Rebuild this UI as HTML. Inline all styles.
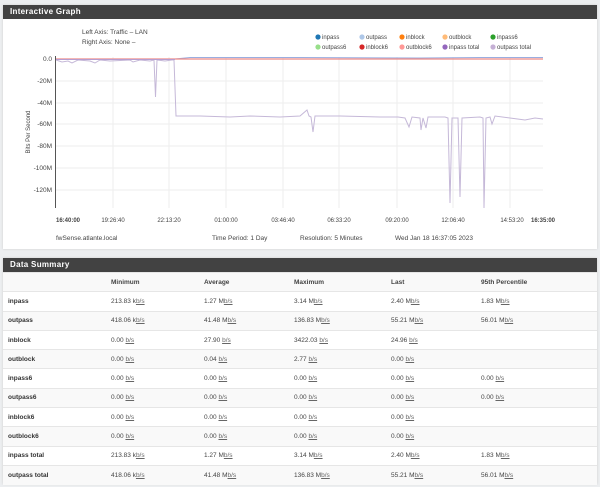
<!DOCTYPE html>
<html><head><meta charset="utf-8"><style>
body{margin:0;width:600px;height:487px;background:#eceef0;font-family:"Liberation Sans",sans-serif;position:relative;overflow:hidden}
.p{position:absolute;left:3px;width:594px;background:#fff;box-shadow:0 0 2px #ccc}
.h{background:#424242;color:#fff;font-size:8px;font-weight:bold;height:14px;line-height:14px;padding-left:7px;letter-spacing:.3px}
table{border-collapse:collapse;width:594px;font-size:6.5px;color:#444}
td{height:19.3px;border-top:1px solid #e6e6e6;padding:0;box-sizing:border-box}
tr:nth-child(odd) td{background:#f9f9f9}
td:first-child{font-weight:bold;padding-left:5px;color:#333;width:108px}
td:nth-child(2){width:93px}td:nth-child(3){width:90px}td:nth-child(4){width:97px}td:nth-child(5){width:90px}
u{text-decoration:underline;color:#666}
</style></head><body>
<div class="p" style="top:5px;height:244px"><div class="h">Interactive Graph</div></div>
<svg style="position:absolute;left:0;top:0" width="600" height="250" font-family="Liberation Sans" font-size="6.5" fill="#444">
<text x="82" y="34">Left Axis: Traffic – LAN</text><text x="82" y="44">Right Axis: None –</text>
<g font-size="6"><circle cx="318" cy="37" r="2.6" fill="#1f77b4"/><text x="322" y="39">inpass</text>
<circle cx="362" cy="37" r="2.6" fill="#aec7e8"/><text x="366" y="39">outpass</text>
<circle cx="402" cy="37" r="2.6" fill="#ff7f0e"/><text x="406" y="39">inblock</text>
<circle cx="445" cy="37" r="2.6" fill="#ffbb78"/><text x="449" y="39">outblock</text>
<circle cx="493" cy="37" r="2.6" fill="#2ca02c"/><text x="497" y="39">inpass6</text>
<circle cx="318" cy="47" r="2.6" fill="#98df8a"/><text x="322" y="49">outpass6</text>
<circle cx="362" cy="47" r="2.6" fill="#d62728"/><text x="366" y="49">inblock6</text>
<circle cx="402" cy="47" r="2.6" fill="#ff9896"/><text x="406" y="49">outblock6</text>
<circle cx="445" cy="47" r="2.6" fill="#9467bd"/><text x="449" y="49">inpass total</text>
<circle cx="493" cy="47" r="2.6" fill="#c5b0d5"/><text x="497" y="49">outpass total</text></g>
<g stroke="#eee" stroke-width="1">
<line x1="113" y1="57" x2="113" y2="208"/><line x1="169" y1="57" x2="169" y2="208"/><line x1="226" y1="57" x2="226" y2="208"/><line x1="283" y1="57" x2="283" y2="208"/><line x1="339" y1="57" x2="339" y2="208"/><line x1="397" y1="57" x2="397" y2="208"/><line x1="453" y1="57" x2="453" y2="208"/><line x1="510" y1="57" x2="510" y2="208"/>
<line x1="55" y1="81" x2="543" y2="81"/><line x1="55" y1="103" x2="543" y2="103"/><line x1="55" y1="124" x2="543" y2="124"/><line x1="55" y1="146" x2="543" y2="146"/><line x1="55" y1="168" x2="543" y2="168"/><line x1="55" y1="190" x2="543" y2="190"/></g>
<line x1="55.5" y1="56" x2="55.5" y2="208" stroke="#555"/>
<g text-anchor="end"><text x="52" y="61">0.0</text><text x="52" y="83">-20M</text><text x="52" y="105">-40M</text><text x="52" y="126">-60M</text><text x="52" y="148">-80M</text><text x="52" y="170">-100M</text><text x="52" y="192">-120M</text></g>
<text transform="translate(30,132) rotate(-90)" text-anchor="middle" font-size="6">Bits Per Second</text>
<polyline fill="none" stroke="#c5b8d8" stroke-width="1" points="56,60 62,62 68,61 72,63 78,60 90,61 95,63 100,60 110,61 130,60 133,62 140,60 150,61 154,60 155.5,97 157,60 165,61 172,60 174,60 176,116 200,116 230,117 250,116 280,117 300,116 307,110 309,116 311,117 313,132 315,116 340,116 380,117 398,117 405,118 409,127 412,117 420,118 421,130 423,118 426,128 428,117 445,117 448,118 450,203 452,118 458,118 460,197 462,118 480,117 483,118 484,208 486,118 490,117 492,124 495,116 510,118 525,120 535,118 543,119"/>
<polyline fill="none" stroke="#9aaee0" stroke-width="1" points="56,59 175,59 190,57.5 300,57.5 420,58 480,57.5 543,57.5"/>
<line x1="56" y1="59" x2="543" y2="59" stroke="#ee8a88" stroke-width="1.3"/>
<line x1="56" y1="59.5" x2="175" y2="59.5" stroke="#b89ccf" stroke-width="1"/>
<g text-anchor="middle" font-size="6"><text x="68" y="222" font-weight="bold">16:40:00</text><text x="113" y="222">19:26:40</text><text x="169" y="222">22:13:20</text><text x="226" y="222">01:00:00</text><text x="283" y="222">03:46:40</text><text x="339" y="222">06:33:20</text><text x="397" y="222">09:20:00</text><text x="453" y="222">12:06:40</text><text x="512" y="222">14:53:20</text><text x="543" y="222" font-weight="bold">16:35:00</text></g>
<text x="56" y="240">fwSense.atlante.local</text><text x="212" y="240">Time Period: 1 Day</text><text x="300" y="240">Resolution: 5 Minutes</text><text x="395" y="240">Wed Jan 18 16:37:05 2023</text>
</svg>
<div class="p" style="top:258px;height:226px"><div class="h">Data Summary</div>
<table>
<tr style="font-weight:bold"><td></td><td>Minimum</td><td>Average</td><td>Maximum</td><td>Last</td><td>95th Percentile</td></tr>
<tr><td>inpass</td><td>213.83 k<u>b/s</u></td><td>1.27 M<u>b/s</u></td><td>3.14 M<u>b/s</u></td><td>2.40 M<u>b/s</u></td><td>1.83 M<u>b/s</u></td></tr>
<tr><td>outpass</td><td>418.06 k<u>b/s</u></td><td>41.48 M<u>b/s</u></td><td>136.83 M<u>b/s</u></td><td>55.21 M<u>b/s</u></td><td>56.01 M<u>b/s</u></td></tr>
<tr><td>inblock</td><td>0.00 <u>b/s</u></td><td>27.90 <u>b/s</u></td><td>3422.03 <u>b/s</u></td><td>24.96 <u>b/s</u></td><td></td></tr>
<tr><td>outblock</td><td>0.00 <u>b/s</u></td><td>0.04 <u>b/s</u></td><td>2.77 <u>b/s</u></td><td>0.00 <u>b/s</u></td><td></td></tr>
<tr><td>inpass6</td><td>0.00 <u>b/s</u></td><td>0.00 <u>b/s</u></td><td>0.00 <u>b/s</u></td><td>0.00 <u>b/s</u></td><td>0.00 <u>b/s</u></td></tr>
<tr><td>outpass6</td><td>0.00 <u>b/s</u></td><td>0.00 <u>b/s</u></td><td>0.00 <u>b/s</u></td><td>0.00 <u>b/s</u></td><td>0.00 <u>b/s</u></td></tr>
<tr><td>inblock6</td><td>0.00 <u>b/s</u></td><td>0.00 <u>b/s</u></td><td>0.00 <u>b/s</u></td><td>0.00 <u>b/s</u></td><td></td></tr>
<tr><td>outblock6</td><td>0.00 <u>b/s</u></td><td>0.00 <u>b/s</u></td><td>0.00 <u>b/s</u></td><td>0.00 <u>b/s</u></td><td></td></tr>
<tr><td>inpass total</td><td>213.83 k<u>b/s</u></td><td>1.27 M<u>b/s</u></td><td>3.14 M<u>b/s</u></td><td>2.40 M<u>b/s</u></td><td>1.83 M<u>b/s</u></td></tr>
<tr><td>outpass total</td><td>418.06 k<u>b/s</u></td><td>41.48 M<u>b/s</u></td><td>136.83 M<u>b/s</u></td><td>55.21 M<u>b/s</u></td><td>56.01 M<u>b/s</u></td></tr>
</table></div>
</body></html>
